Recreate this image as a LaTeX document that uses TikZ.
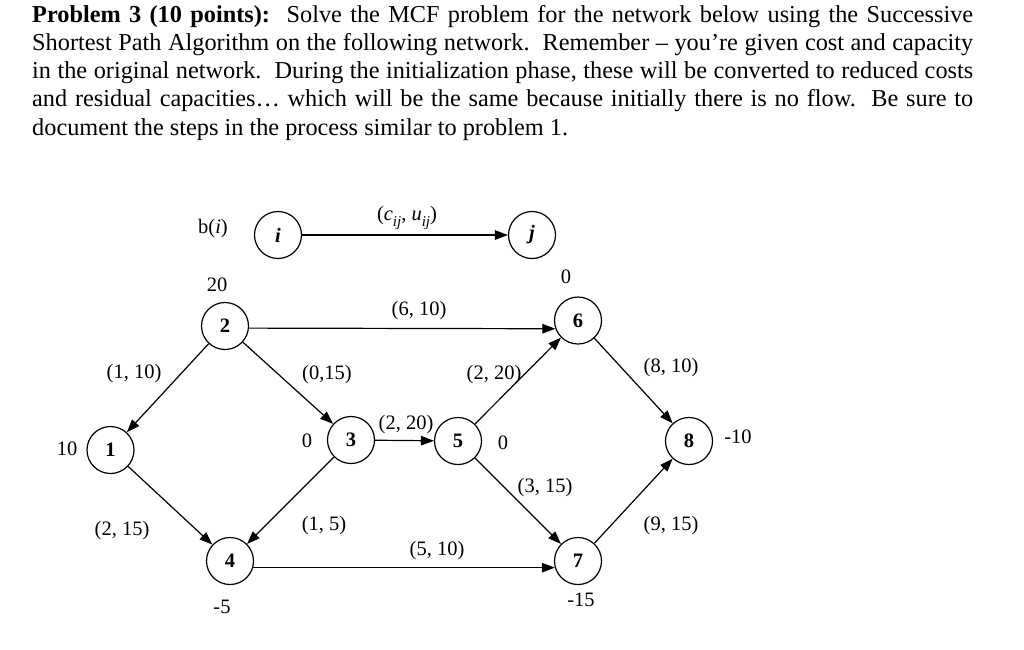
\documentclass[tikz,border=0pt]{standalone}
\usepackage{fontspec}
\setmainfont{Liberation Serif}
\usetikzlibrary{arrows.meta}
\newcommand{\subij}{\raisebox{-0.28em}{\fontsize{15}{15}\selectfont\textit{ij}}}
\begin{document}
\begin{tikzpicture}[x=1pt,y=-1pt,
  vert/.style={circle,draw,line width=1.2pt,minimum size=47pt,inner sep=0pt,font=\fontsize{20.5}{20.5}\selectfont\bfseries},
  lbl/.style={font=\fontsize{20.5}{22}\selectfont,inner sep=0pt},
  arc/.style={line width=1.2pt,-{Triangle[length=13pt,width=9.5pt]}},
  hdr/.style={anchor=base west,inner sep=0pt,font=\fontsize{24.3}{28}\selectfont}]
\useasboundingbox (0,0) rectangle (1024,649);
% header text
\node[hdr] (t1) at (32,22) {\makebox[941pt][s]{\textbf{Problem 3 (10 points):}\ \ Solve the MCF problem for the network below using the Successive}};
\node[hdr] (t2) at (32,50.3) {\makebox[941pt][s]{Shortest Path Algorithm on the following network.\ \ Remember – you’re given cost and capacity}};
\node[hdr] (t3) at (32,78.6) {\makebox[941pt][s]{in the original network.\ \ During the initialization phase, these will be converted to reduced costs}};
\node[hdr] (t4) at (32,106.9) {\makebox[941pt][s]{and residual capacities… which will be the same because initially there is no flow.\ \ Be sure to}};
\node[hdr] (t5) at (32,135.2) {document the steps in the process similar to problem 1.};
% legend
\node[vert] (ni) at (278,235) {\textit{i}};
\node[vert] (nj) at (532,235) {\textit{j}};
\node[lbl] (lb) at (213,229) {b(\textit{i})};
\node[lbl] (lc) at (407,218) {(\textit{c}\subij, \textit{u}\subij)};
\draw[arc] (ni) -- (nj);
% nodes
\node[vert] (n1) at (110.5,450) {1};
\node[vert] (n2) at (225,326) {2};
\node[vert] (n3) at (351,440) {3};
\node[vert] (n4) at (230,561) {4};
\node[vert] (n5) at (458,441) {5};
\node[vert] (n6) at (578,320.5) {6};
\node[vert] (n7) at (578,561) {7};
\node[vert] (n8) at (689,441) {8};
% edges
\draw[arc] (n2) -- (n1);
\draw[arc] (n2) -- (n3);
\draw[arc] (n2.-5) -- (n6.-160);
\draw[arc] (n1) -- (n4);
\draw[arc] (n3) -- (n4);
\draw[arc] (n3) -- (n5);
\draw[arc] (n5) -- (n6);
\draw[arc] (n5) -- (n7);
\draw[arc] (n4.-16) -- (n7.-164);
\draw[arc] (n6) -- (n8);
\draw[arc] (n7) -- (n8);
% supplies
\node[lbl] (b2) at (217,285) {20};
\node[lbl] (b6) at (566,277) {0};
\node[lbl] (b1) at (67,449) {10};
\node[lbl] (b3) at (307,441) {0};
\node[lbl] (b5) at (503,443) {0};
\node[lbl] (b8) at (738,437) {-10};
\node[lbl] (b4) at (222,607) {-5};
\node[lbl] (b7) at (581,600) {-15};
% arc labels
\node[lbl] (e26) at (419,311) {(6, 10)};
\node[lbl] (e21) at (134,374) {(1, 10)};
\node[lbl] (e23) at (327,375) {(0,15)};
\node[lbl] (e56) at (494,375) {(2, 20)};
\node[lbl] (e68) at (671,368) {(8, 10)};
\node[lbl] (e35) at (406,425) {(2, 20)};
\node[lbl] (e57) at (545,488) {(3, 15)};
\node[lbl] (e14) at (122,531) {(2, 15)};
\node[lbl] (e34) at (324,526) {(1, 5)};
\node[lbl] (e78) at (671,526) {(9, 15)};
\node[lbl] (e47) at (437,551) {(5, 10)};
\end{tikzpicture}
\end{document}
